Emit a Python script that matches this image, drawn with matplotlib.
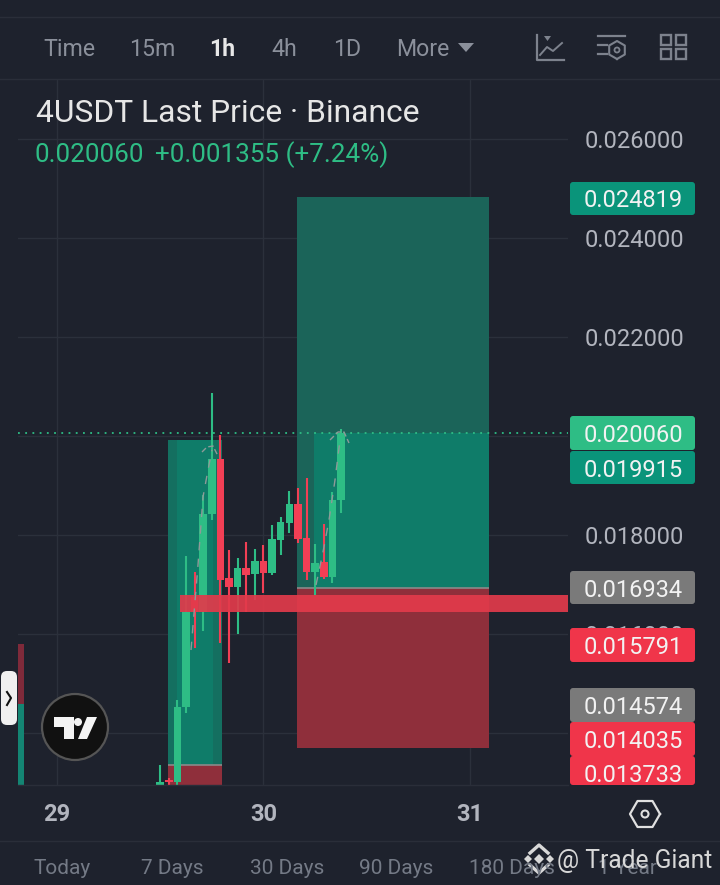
# 4USDT 1h candles, long position boxes on top
import numpy as np
import matplotlib
matplotlib.use("Agg")
import matplotlib.pyplot as plt
from matplotlib.patches import Rectangle, FancyBboxPatch, Circle, Polygon

plt.rcParams['font.family'] = ['Roboto', 'DejaVu Sans']

# candles, hours since the 29th 00:00
hours = [12, 13, 14, 15, 16, 17, 18, 19, 20, 21, 22, 23, 24, 25, 26, 27, 28, 29, 30, 31, 32, 33]
opens = [.012949, .01304, .01301, .014525, .016747, .016444, .018424, .019535, .017131, .01695, .017333,
         .017212, .017475, .017232, .017899, .018242, .018626, .017939, .017253, .017455, .017152, .018707]
highs = [.013354, .013091, .014667, .017576, .017253, .018808, .020869, .02002, .017697, .017535, .017859,
         .017717, .017798, .018202, .018364, .018889, .018949, .019152, .017818, .018222, .018869, .020141]
lows = [.012949, .012949, .012949, .014404, .015717, .016061, .018303, .015818, .015414, .016, .016444,
        .016687, .016828, .017192, .017596, .01804, .017838, .017091, .016788, .017111, .01703, .018444]
closes = [.01301, .013, .014525, .016444, .016444, .018424, .019535, .017091, .01695, .017333, .017192,
          .017475, .017232, .017919, .018263, .018626, .017919, .017253, .017434, .017152, .018707, .02006]

price_ticks = [.014, .016, .018, .020, .022, .024, .026]
day_ticks = [0, 24, 48]
day_labels = ["29", "30", "31"]
last_price = .02006

# position boxes
box1_hours = [12.9, 13.95, 18.13, 19.18]
box1_target, box1_entry, box1_stop = .019915, .013354, .012949
box2_hours = [27.9, 29.87, 50.2]
box2_target, box2_entry, box2_stop = .024819, .016934, .0137
band_start = 14.3
band_low, band_high = .016444, .016788

# price tags on the right: text, colour
tag_texts = ["0.024819", "0.020060", "0.019915", "0.016934", "0.015791", "0.014574", "0.014035", "0.013733"]
tag_colors = ["#0A947A", "#2EBD85", "#0A947A", "#7A7A7A", "#F0354A", "#7A7A7A", "#F0354A", "#F0354A"]
tag_tops = [182, 416, 451, 571, 628, 688, 722, 756]
tag_bottoms = [215, 450, 484, 604, 662, 722, 756, 785]
tag_text_y = [198, 433, 468, 588, 645, 705, 739, 773]

menu_labels = ["Time", "15m", "1h", "4h", "1D", "More"]
menu_x = [43, 129, 209, 271, 333, 396]
range_labels = ["Today", "7 Days", "30 Days", "90 Days", "180 Days", "1 Year"]
range_x = [33, 141, 250, 359, 469, 598]

bg = "#1E222D"
green = "#2EBD85"
red = "#F23F55"
grid = "#2B303B"

fig = plt.figure(figsize=(7.2, 8.85), dpi=100, facecolor=bg)
ax = fig.add_axes([18/720, 100/885, 550/720, 706/885], facecolor=bg)
ax.set_xlim(-4.53, 59.39)
ax.set_ylim(.012949, .027212)
for s in ax.spines.values():
    s.set_visible(False)

ax.yaxis.tick_right()
ax.set_yticks(price_ticks)
ax.set_yticklabels(["%.6f" % p for p in price_ticks])
ax.set_xticks(day_ticks)
ax.set_xticklabels(day_labels, fontweight="bold")
ax.tick_params(axis="y", length=0, pad=12, labelsize=17, labelcolor="#B2B5BE")
ax.tick_params(axis="x", length=0, pad=13, labelsize=17, labelcolor="#B2B5BE")
ax.grid(color=grid, linewidth=1)
ax.set_axisbelow(True)

# box 1
ax.add_patch(Rectangle((box1_hours[0], box1_entry), box1_hours[3]-box1_hours[0], box1_target-box1_entry, color="#146F60", lw=0, zorder=2))
ax.add_patch(Rectangle((box1_hours[1], box1_entry), box1_hours[2]-box1_hours[1], box1_target-box1_entry, color="#0F7C69", lw=0, zorder=2))
ax.add_patch(Rectangle((box1_hours[0], box1_stop), box1_hours[3]-box1_hours[0], box1_entry-box1_stop, color="#8F2F3B", lw=0, zorder=2))
ax.hlines(box1_entry, box1_hours[0], box1_hours[3], color="#8A8A8A", lw=1.2, zorder=2.5)

# box 2
ax.add_patch(Rectangle((box2_hours[0], box2_entry), box2_hours[2]-box2_hours[0], box2_target-box2_entry, color="#1B6459", lw=0, zorder=2))
ax.add_patch(Rectangle((box2_hours[1], box2_entry), box2_hours[2]-box2_hours[1], last_price-box2_entry, color="#0F7C69", lw=0, zorder=2))
ax.add_patch(Rectangle((box2_hours[0], box2_stop), box2_hours[2]-box2_hours[0], box2_entry-box2_stop, color="#8F2F3B", lw=0, zorder=2))
ax.hlines(box2_entry, box2_hours[0], box2_hours[2], color="#8A8A8A", lw=1.2, zorder=2.5)

# candles
for h, o, hi, lo, c in zip(hours, opens, highs, lows, closes):
    col = green if c >= o else red
    ax.vlines(h, lo, hi, color=col, lw=1.5, zorder=3)
    ax.bar(h, abs(c-o), bottom=min(o, c), width=0.88, color=col, zorder=3)

# supply band over the candles
ax.add_patch(Rectangle((band_start, band_low), 59.39-band_start, band_high-band_low, color="#E23A4B", alpha=0.92, lw=0, zorder=4))
ax.axhline(last_price, color=green, lw=1.3, linestyle=(0, (1, 3)), zorder=5)

# everything else in pixel coordinates
ov = fig.add_axes([0, 0, 1, 1], zorder=10)
ov.set_xlim(0, 720)
ov.set_ylim(885, 0)
ov.axis("off")

for y in [17, 79, 785, 841]:
    ov.plot([0, 720] if y != 785 else [18, 568], [y, y], color="#2A2E39", lw=1)

# projected path dashes
ov.plot([191, 198, 203, 208, 212], [650, 565, 497, 470, 450], color="#8E9A98", lw=1, linestyle=(0, (6, 6)))
ov.plot([202, 207, 213, 218], [452, 447, 446, 456], color="#8E9A98", lw=1, linestyle=(0, (4, 2)))
ov.plot([316, 323, 329, 335, 340], [585, 552, 520, 480, 440], color="#8E9A98", lw=1, linestyle=(0, (6, 6)))
ov.plot([330, 338, 344, 349], [440, 432, 432, 443], color="#8E9A98", lw=1, linestyle=(0, (4, 2)))

# menu
for lab, x in zip(menu_labels, menu_x):
    hot = lab == "1h"
    ov.text(x, 50, lab, color="#E8E8E8" if hot else "#8B909B", fontsize=16.7, va="center",
            fontweight="bold" if hot else "normal")
ov.add_patch(Polygon([(458, 43), (474, 43), (466, 52)], color="#8B909B", lw=0))

# chart icon
ov.plot([537, 537, 564], [35, 60, 60], color="#7D828D", lw=1.6)
ov.plot([540, 547, 553, 562], [55, 47, 51, 43], color="#7D828D", lw=1.4)
ov.add_patch(Polygon([(544, 36), (551, 36), (547.5, 41)], color="#7D828D", lw=0))
# settings icon
ov.plot([598, 625], [36, 36], color="#7D828D", lw=1.6)
ov.plot([598, 607], [45, 45], color="#7D828D", lw=1.6)
ov.plot([598, 607], [54, 54], color="#7D828D", lw=1.6)
hx = 617 + 9*np.sin(np.linspace(0, 2*np.pi, 7))
hy = 50 + 9*np.cos(np.linspace(0, 2*np.pi, 7))
ov.plot(hx, hy, color="#7D828D", lw=1.5)
ov.add_patch(Circle((617, 50), 2.5, fill=False, ec="#7D828D", lw=1.3))
# grid icon
for x0 in [661, 676]:
    for y0 in [35, 49]:
        ov.add_patch(Rectangle((x0, y0), 10, 10, fill=False, ec="#7D828D", lw=1.7))

# header
ov.text(36, 113, "4USDT Last Price · Binance", color="#E6E6E6", fontsize=22.9, va="center")
ov.text(34, 155, "0.020060", color=green, fontsize=18.7, va="center")
ov.text(155, 155, "+0.001355 (+7.24%)", color=green, fontsize=18.7, va="center")

# price tags
for txt, col, top, bot, ty in zip(tag_texts, tag_colors, tag_tops, tag_bottoms, tag_text_y):
    ov.add_patch(FancyBboxPatch((570, top), 125, bot-top, boxstyle="round,pad=0,rounding_size=3", color=col, lw=0))
    ov.text(584, ty + 2.5, txt, color="#F2F2F2", fontsize=17, va="center")

# small position bar on the left edge
ov.add_patch(Rectangle((18, 644), 6, 60, color="#7F2A3A", lw=0))
ov.add_patch(Rectangle((18, 704), 6, 81, color="#148573", lw=0))

# toggle pill
ov.add_patch(FancyBboxPatch((1, 671), 16, 54, boxstyle="round,pad=0,rounding_size=6", color="#F0F0F0", lw=0))
ov.plot([7, 11, 7], [692, 698, 705], color="#111111", lw=1.5)

# tradingview logo
ov.add_patch(Circle((75, 727), 33, fc="#111111", ec="#555555", lw=1.6))
ov.add_patch(Polygon([(54, 717), (74, 717), (74, 739), (64, 739), (64, 727), (54, 727)], color="#F4F4F4", lw=0))
ov.add_patch(Polygon([(87, 717), (97, 717), (87, 739), (78, 739)], color="#F4F4F4", lw=0))
ov.add_patch(Circle((78, 722), 4, color="#F4F4F4", lw=0))

# settings hexagon
hx = 645 + 15*np.cos(np.linspace(0, 2*np.pi, 7))
hy = 814 + 15*np.sin(np.linspace(0, 2*np.pi, 7))
ov.plot(hx, hy, color="#E0E0E0", lw=1.6)
ov.add_patch(Circle((645, 814), 3.5, fill=False, ec="#E0E0E0", lw=1.5))

# range row and watermark
for lab, x in zip(range_labels, range_x):
    ov.text(x, 869, lab, color="#747A86", fontsize=15, va="center")
wm = "#D8D8D8"
ov.plot([530, 539, 548], [853, 845, 853], color=wm, lw=2.4)
ov.plot([530, 539, 548], [865, 873, 865], color=wm, lw=2.4)
ov.add_patch(Polygon([(539, 854), (544, 859), (539, 864), (534, 859)], color=wm, lw=0))
ov.add_patch(Polygon([(528, 855), (532, 859), (528, 863), (524, 859)], color=wm, lw=0))
ov.add_patch(Polygon([(550, 855), (554, 859), (550, 863), (546, 859)], color=wm, lw=0))
ov.text(557, 861, "@ Trade Giant", color=wm, fontsize=17.7, va="center")

fig.savefig("out.png", dpi=100, facecolor=bg)
